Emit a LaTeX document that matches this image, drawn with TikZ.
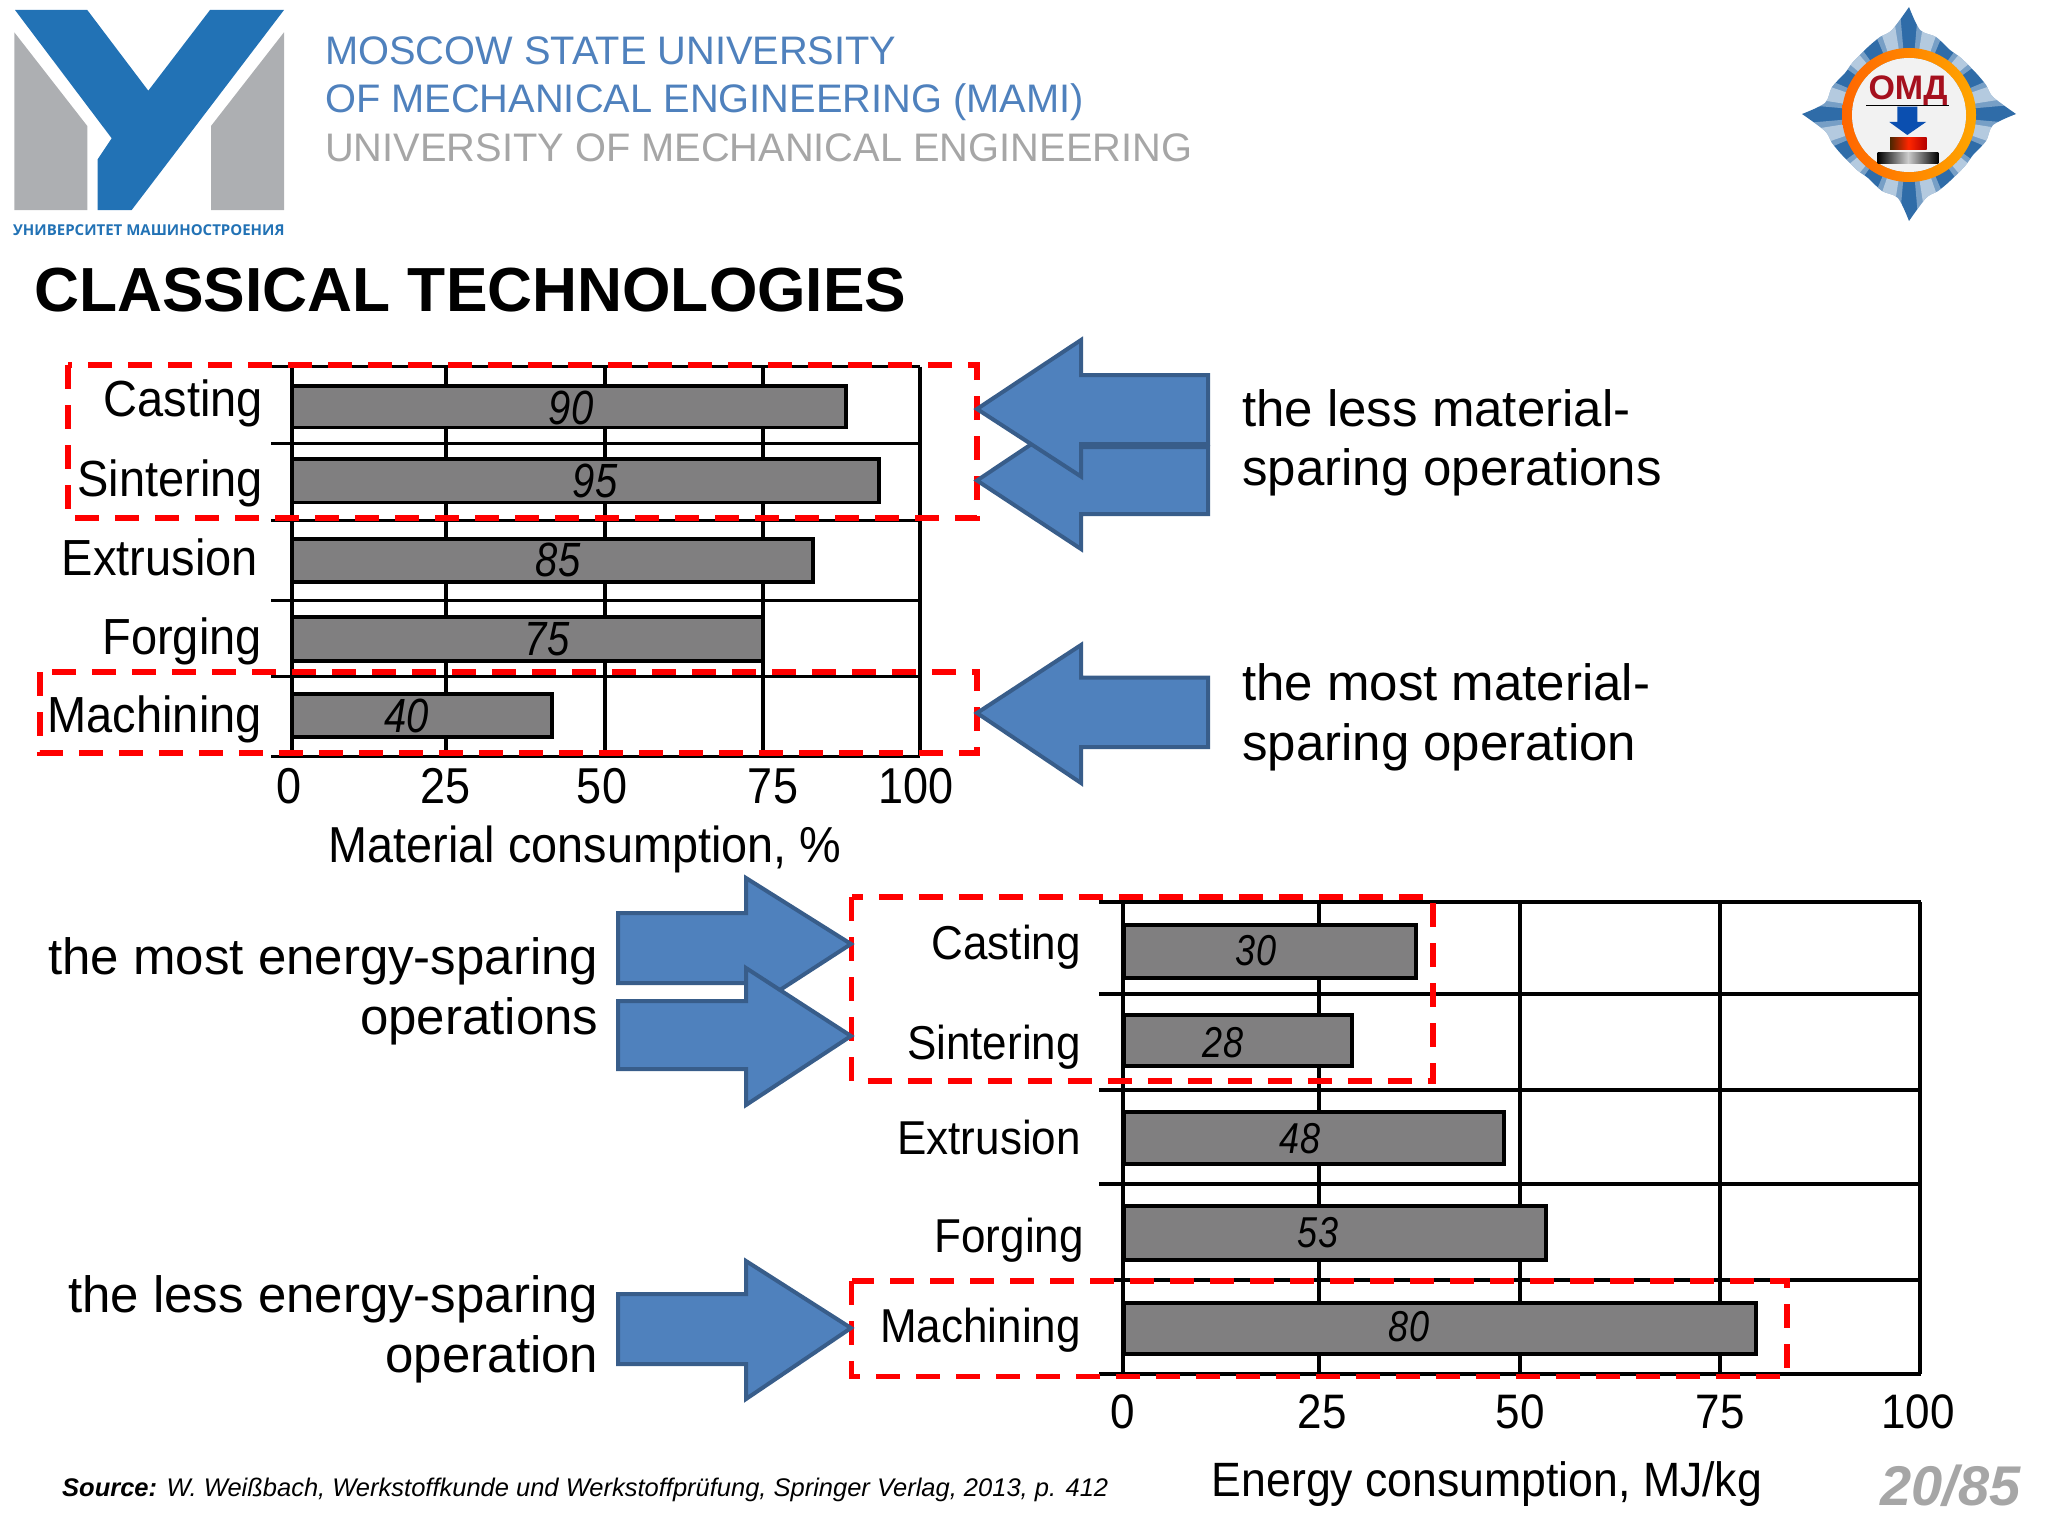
\documentclass[tikz,border=0pt]{standalone}
\usepackage{graphicx}
\usepackage{fontspec}
\setmainfont{Liberation Sans}
\newfontfamily\logofont{Open Sans}
\newcommand{\tall}[2][1.2]{\scalebox{1}[#1]{#2}}
\definecolor{headblue}{HTML}{4F81BD}
\definecolor{headgray}{HTML}{A6A6A6}
\definecolor{logoblue}{HTML}{2272B5}
\definecolor{logogray}{HTML}{ADAFB2}
\definecolor{omdblue}{HTML}{2F6CA8}
\definecolor{omdred}{HTML}{A5101E}
\definecolor{omdarrow}{HTML}{0B4FB0}
\definecolor{barfill}{HTML}{807F80}
\definecolor{arrowline}{HTML}{385D8A}
\begin{document}
\begin{tikzpicture}[
		x=1pt,y=-1pt,
		txt/.style={inner sep=0pt,font=\fontsize{#1}{#1}\selectfont},
		gridline/.style={draw=black,line width=3.5pt},
		barbox/.style={draw=black,fill=barfill,line width=3.5pt},
		redbox/.style={draw=red,line width=5.5pt,dash pattern=on 24pt off 16pt},
		bigarrow/.style={draw=arrowline,fill=headblue,line width=4pt,line join=miter}
	]
	\useasboundingbox (0,0) rectangle (2048,1536);

	\fill[logoblue] (15,10) -- (87.3,10) -- (148.3,90.7) -- (210,10) -- (284,10) -- (131.7,210) -- (97.7,210) -- (97.7,159.3) -- (111.7,138.3) -- cycle;
	\fill[logogray] (14.3,32.3) -- (87.3,126) -- (87.3,210) -- (14.3,210) -- cycle;
	\fill[logogray] (284,32.3) -- (211,126) -- (211,210) -- (284,210) -- cycle;
	\node[txt=15,anchor=base west,text=logoblue] (logotext) at (13,235) {\logofont\bfseries УНИВЕРСИТЕТ МАШИНОСТРОЕНИЯ};

	\node[txt=39.8,anchor=base west,text=headblue] (head1) at (325,65) {MOSCOW STATE UNIVERSITY};
	\node[txt=39.8,anchor=base west,text=headblue] (head2) at (325,113) {OF MECHANICAL ENGINEERING (MAMI)};
	\node[txt=39.8,anchor=base west,text=headgray] (head3) at (325,161) {UNIVERSITY OF MECHANICAL ENGINEERING};
	\node[txt=62,anchor=base west,font=\fontsize{62.3}{62.3}\selectfont\bfseries] (title) at (34,311) {CLASSICAL TECHNOLOGIES};

	\foreach \r in {0,90,180,270} {
		\begin{scope}[shift={(1909,114)},rotate=\r]
			\clip (0,0) -- plot[smooth] coordinates {(0,-107) (11,-84) (27,-77) (41,-64) (52,-56) (67,-41) (77,-29) (84,-17) (107,0)} -- cycle;
			\fill[omdblue] (0,0) rectangle (110,-110);
			\foreach \t in {-76,-45,-14} {
				\fill[white,opacity=.35] (0,0) -- (\t-9:130) -- (\t+9:130) -- cycle;
				\fill[white,opacity=.45] (0,0) -- (\t-5:130) -- (\t+5:130) -- cycle;
			}
		\end{scope}
	}
	\shade[left color=orange!80!red,right color=orange!70!yellow,even odd rule] (1909,115) circle (67) circle (57);
	\fill[white!95!black] (1909,115) circle (57);
	\node[txt=34,anchor=base,text=omdred,font=\fontsize{34}{34}\selectfont\bfseries] (omd) at (1908,100) {ОМД};
	\draw[line width=1.5pt] (1866,105.7) -- (1949,105.7);
	\fill[omdarrow] (1897.3,106.7) -- (1917.3,106.7) -- (1917.3,122) -- (1926,122) -- (1907.3,135) -- (1889.3,122) -- (1897.3,122) -- cycle;
	\shade[left color=black!70!orange,right color=red!70!black,middle color=red!70!orange] (1890,137.3) rectangle (1926.7,150);
	\shade[left color=black,right color=black,middle color=white!80!black] (1877.7,152.3) rectangle (1938.3,163.3);

	\foreach \y in {366.5,443.7,520.5,600.7,676.5,756.4} {
		\draw[gridline] (271,\y) -- (920,\y);
	}
	\foreach \x in {292,446,605,763,920} {
		\draw[gridline] (\x,366.5) -- (\x,756.4);
	}
	\foreach \name/\ytop/\ybot/\xend/\val/\xval/\ybase/\xlab/\ylab in {
			Casting/386/427.5/846/90/571/424/263/416,
			Sintering/459/502.6/879/95/595/497/263/496,
			Extrusion/539/582/813/85/558/576/258/575.5,
			Forging/617/661/763/75/547/655/262/654.5,
			Machining/694/737/552/40/407/732/262/732} {
		\draw[barbox] (292,\ytop) rectangle (\xend,\ybot);
		\node[txt=40,anchor=base,font=\fontsize{40}{40}\selectfont\itshape] (mat\val) at (\xval,\ybase) {\tall{\val}};
		\node[txt=47,anchor=base east] (mat\name) at (\xlab,\ylab) {\tall[1.08]{\name}};
	}
	\foreach \val/\x in {0/289,25/446,50/602,75/773,100/916} {
		\node[txt=45,anchor=base] (matick\val) at (\x,803) {\tall[1.12]{\val}};
	}
	\node[txt=46.8,anchor=base] (mataxis) at (585,862) {\tall[1.08]{Material consumption, \%}};

	\foreach \y in {902,994,1090,1184,1280,1374} {
		\draw[gridline] (1099,\y) -- (1921,\y);
	}
	\foreach \x in {1123,1319,1520,1720,1920} {
		\draw[gridline] (\x,902) -- (\x,1374);
	}
	\foreach \name/\ytop/\ybot/\xend/\val/\xval/\ybase/\ylab/\xlab in {
			Casting/925/978/1416/30/1256/965/959/1081,
			Sintering/1015/1066/1352/28/1223/1057/1059/1081,
			Extrusion/1112/1164/1504/48/1300/1153/1154/1081,
			Forging/1206/1260/1546/53/1318/1247/1252/1084,
			Machining/1303/1354/1756/80/1409/1341/1342/1081} {
		\draw[barbox] (1124,\ytop) rectangle (\xend,\ybot);
		\node[txt=36,anchor=base,font=\fontsize{36}{36}\selectfont\itshape] (en\val) at (\xval,\ybase) {\tall{\val}};
		\node[txt=44,anchor=base east] (en\name) at (\xlab,\ylab) {\tall[1.08]{\name}};
	}
	\foreach \val/\x in {0/1123,25/1322,50/1520,75/1720,100/1918} {
		\node[txt=44,anchor=base] (entick\val) at (\x,1428) {\tall[1.1]{\val}};
	}
	\node[txt=44.6,anchor=base] (enaxis) at (1487,1496) {\tall[1.08]{Energy consumption, MJ/kg}};

	\draw[redbox] (68,365) rectangle (977,518);
	\draw[redbox] (40,672) rectangle (977,753);
	\draw[redbox] (851.5,897) rectangle (1433,1081);
	\draw[redbox] (851.5,1281) rectangle (1787,1376.5);

	\draw[bigarrow] (977,480.5) -- (1081,411) -- (1081,447) -- (1208,447) -- (1208,514) -- (1081,514) -- (1081,549) -- cycle;
	\draw[bigarrow] (977,409) -- (1081,340) -- (1081,375) -- (1208,375) -- (1208,444) -- (1081,444) -- (1081,476.5) -- cycle;
	\draw[bigarrow] (977,713) -- (1081,645) -- (1081,677.5) -- (1208,677.5) -- (1208,747) -- (1081,747) -- (1081,783) -- cycle;
	\draw[bigarrow] (851,944) -- (746,878) -- (746,913) -- (618,913) -- (618,983) -- (746,983) -- (746,1012) -- cycle;
	\draw[bigarrow] (851,1036) -- (746,968) -- (746,1001) -- (618,1001) -- (618,1069) -- (746,1069) -- (746,1105) -- cycle;
	\draw[bigarrow] (851,1328) -- (746,1261) -- (746,1294) -- (618,1294) -- (618,1364) -- (746,1364) -- (746,1399) -- cycle;

	\node[txt=51,anchor=base west] (less1) at (1242,426) {the less material-};
	\node[txt=51,anchor=base west] (less2) at (1242,485.5) {sparing operations};
	\node[txt=51,anchor=base west] (most1) at (1242,700) {the most material-};
	\node[txt=51,anchor=base west] (most2) at (1242,760) {sparing operation};
	\node[txt=51,anchor=base east] (emost1) at (598.5,974) {the most energy-sparing};
	\node[txt=51,anchor=base east] (emost2) at (598.5,1034) {operations};
	\node[txt=51,anchor=base east] (eless1) at (598.5,1312) {the less energy-sparing};
	\node[txt=51,anchor=base east] (eless2) at (598.5,1372) {operation};

	\node[txt=25.5,anchor=base west] (source) at (62,1496) {\bfseries\itshape Source: \mdseries W. Weißbach, Werkstoffkunde und Werkstoffprüfung, Springer Verlag, 2013, p. 412};
	\node[txt=56,anchor=base east,text=headgray,font=\fontsize{56}{56}\selectfont\bfseries\itshape] (pagenum) at (2021,1505) {20/85};
\end{tikzpicture}
\end{document}
